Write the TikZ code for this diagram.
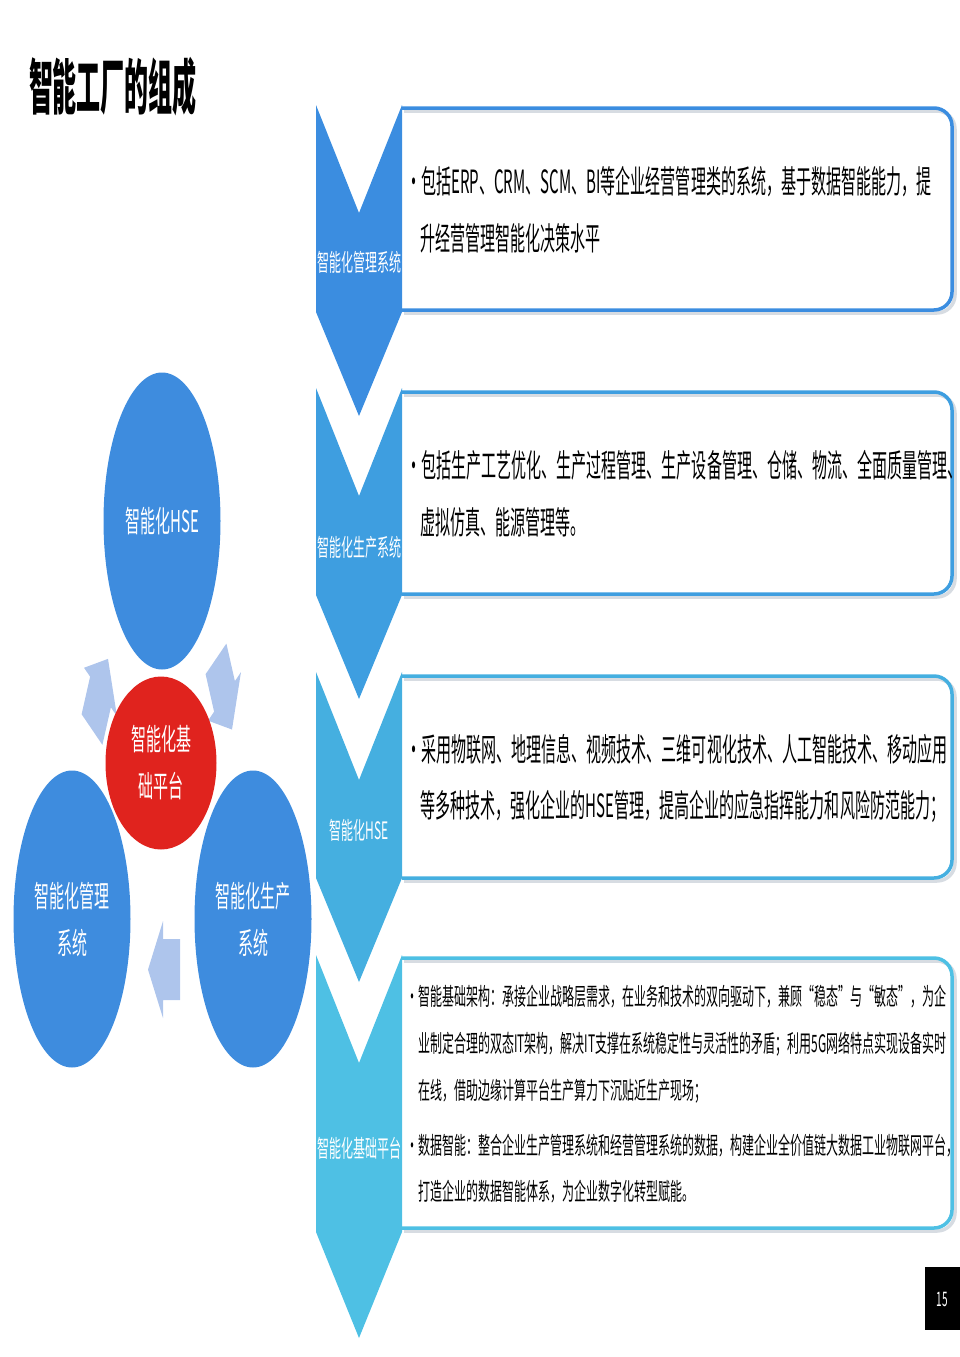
\documentclass[tikz,border=0pt]{standalone}
\usepackage{fontspec}
\usepackage{xcolor}
\usetikzlibrary{shapes.geometric}
\newfontfamily\cjk[FakeStretch=0.5]{Noto Sans CJK SC}
\newfontfamily\cjkbody[FakeStretch=0.47]{Noto Sans CJK SC}
\newfontfamily\cjktitle[FakeStretch=0.4]{Noto Sans CJK SC}
\definecolor{chevA}{RGB}{59,141,224}
\definecolor{chevB}{RGB}{62,158,224}
\definecolor{chevC}{RGB}{69,175,224}
\definecolor{chevD}{RGB}{78,192,228}
\definecolor{bubbleblue}{RGB}{62,140,222}
\definecolor{basered}{RGB}{224,35,30}
\definecolor{arrowblue}{RGB}{174,197,236}
\definecolor{shadowgray}{RGB}{215,220,226}

\begin{document}
\begin{tikzpicture}[x=1pt,y=-1pt,
  boxline/.style={line width=3.5pt, rounded corners=18pt},
  bodytext/.style={anchor=west, inner sep=0pt, font=\cjkbody\fontsize{32}{38}\selectfont},
  smalltext/.style={anchor=west, inner sep=0pt, font=\cjk\fontsize{24}{30}\selectfont},
  chevlabel/.style={text=white, inner sep=0pt, font=\cjk\fontsize{24}{30}\selectfont},
  bubble/.style={ellipse, fill=bubbleblue, minimum width=117pt, minimum height=297pt, inner sep=0pt,
    text=white, align=center, font=\cjk\fontsize{30}{47}\selectfont},
  cyclearrow/.style={fill=arrowblue}]

 \useasboundingbox (0,0) rectangle (960,1357);

 \node (title) at (113,87) [font=\cjktitle\bfseries\fontsize{60}{60}\selectfont] {智能工厂的组成};



 \draw [boxline, shadowgray] (404,111) -- (955,111) -- (955,313) -- (404,313);
 \draw [boxline, chevA] (402,108) -- (952,108) -- (952,310) -- (402,310);

 \draw [boxline, shadowgray] (404,395) -- (955,395) -- (955,597) -- (404,597);
 \draw [boxline, chevB] (402,392) -- (952,392) -- (952,594) -- (402,594);

 \draw [boxline, shadowgray] (404,679) -- (955,679) -- (955,881) -- (404,881);
 \draw [boxline, chevC] (402,676) -- (952,676) -- (952,878) -- (402,878);

 \draw [boxline, shadowgray] (404,961) -- (955,961) -- (955,1231) -- (404,1231);
 \draw [boxline, chevD] (402,958) -- (952,958) -- (952,1228) -- (402,1228);



 \fill [chevA] (316,105) -- (359,213) -- (402,105) -- (402,312) -- (359,416) -- (316,312) -- cycle;
 \fill [chevB] (316,388) -- (359,496) -- (402,388) -- (402,595) -- (359,699) -- (316,595) -- cycle;
 \fill [chevC] (316,672) -- (359,780) -- (402,672) -- (402,878) -- (359,982) -- (316,878) -- cycle;
 \fill [chevD] (316,955) -- (359,1063) -- (402,955) -- (402,1232) -- (359,1338) -- (316,1232) -- cycle;

 \node (lab1) at (359,262) [chevlabel] {智能化管理系统};
 \node (lab2) at (359,547) [chevlabel] {智能化生产系统};
 \node (lab3) at (359,830) [chevlabel] {智能化HSE};
 \node (lab4) at (359,1148) [chevlabel] {智能化基础平台};



 \node (t1a) at (406,182) [bodytext] {•包括ERP、CRM、SCM、BI等企业经营管理类的系统，基于数据智能能力，提};
 \node (t1b) at (420,238) [bodytext] {升经营管理智能化决策水平};

 \node (t2a) at (406,465) [bodytext] {•包括生产工艺优化、生产过程管理、生产设备管理、仓储、物流、全面质量管理、};
 \node (t2b) at (420,522) [bodytext] {虚拟仿真、能源管理等。};

 \node (t3a) at (406,749) [bodytext] {•采用物联网、地理信息、视频技术、三维可视化技术、人工智能技术、移动应用};
 \node (t3b) at (420,806) [bodytext] {等多种技术，强化企业的HSE管理，提高企业的应急指挥能力和风险防范能力；};

 \node (t4a) at (406,997) [smalltext] {•智能基础架构：承接企业战略层需求，在业务和技术的双向驱动下，兼顾“稳态”与“敏态”，为企};
 \node (t4b) at (418,1044) [smalltext] {业制定合理的双态IT架构，解决IT支撑在系统稳定性与灵活性的矛盾；利用5G网络特点实现设备实时};
 \node (t4c) at (418,1091) [smalltext] {在线，借助边缘计算平台生产算力下沉贴近生产现场；};
 \node (t4d) at (406,1146) [smalltext] {•数据智能：整合企业生产管理系统和经营管理系统的数据，构建企业全价值链大数据工业物联网平台，};
 \node (t4e) at (418,1192) [smalltext] {打造企业的数据智能体系，为企业数字化转型赋能。};



 \begin{scope}[shift={(162,786)}, yscale=2.55]
   \fill [cyclearrow, shift={(-62,-36)}, rotate=60] (16,0) -- (1,19) -- (1,12) -- (-16,12) -- (-16,-12) -- (1,-12) -- (1,-19) -- cycle;
   \fill [cyclearrow, shift={(62,-36)}, rotate=-60] (16,0) -- (1,19) -- (1,12) -- (-16,12) -- (-16,-12) -- (1,-12) -- (1,-19) -- cycle;
   \fill [cyclearrow, shift={(2,72)}, rotate=180] (16,0) -- (1,19) -- (1,12) -- (-16,12) -- (-16,-12) -- (1,-12) -- (1,-19) -- cycle;
 \end{scope}

 \node (hse) at (162,521) [bubble] {智能化HSE};
 \node (mgmt) at (72,919) [bubble] {智能化管理\\系统};
 \node (prod) at (253,919) [bubble] {智能化生产\\系统};
 \node (base) at (161,763) [bubble, fill=basered, minimum width=111pt, minimum height=173pt] {智能化基\\础平台};



 \fill [black] (925,1267) rectangle (960,1330);
 \node (pagenum) at (942,1299) [text=white, font=\cjk\fontsize{20}{20}\selectfont] {15};

\end{tikzpicture}
\end{document}
